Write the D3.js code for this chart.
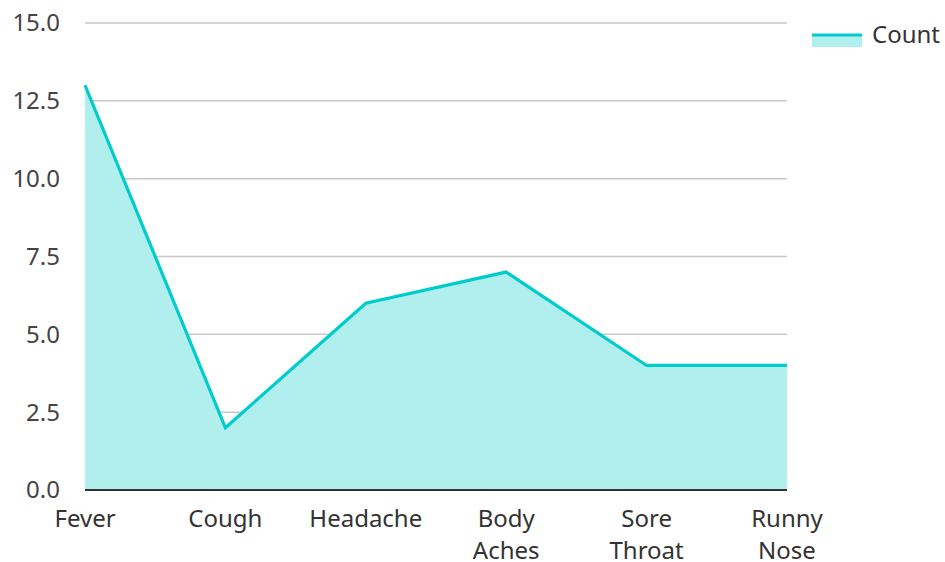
<!DOCTYPE html>
<html><head><meta charset="utf-8">
<script src="https://cdn.jsdelivr.net/npm/d3@7"></script>
<style>body{margin:0;background:#fff;font-family:"Noto Sans","Open Sans",sans-serif;}</style>
</head><body><svg id="c" width="945" height="562"></svg>
<script>
const categories = ["Fever","Cough","Headache","Body Aches","Sore Throat","Runny Nose"];
const counts = [13, 2, 6, 7, 4, 4];
const yTicks = [0, 2.5, 5, 7.5, 10, 12.5, 15];
const seriesName = "Count";

(function(){
const svg = d3.select("#c");
const mLeft = 85, mRight = 787, mTop = 23, mBottom = 490;
const x = d3.scalePoint().domain(categories).range([mLeft, mRight]);
const y = d3.scaleLinear().domain([0, 15]).range([mBottom, mTop]);
const font = '"Noto Sans","Open Sans",sans-serif';
const fs = 24;
const lineColor = "#00CCCC", fillColor = "#B1EFEE";

svg.append("g").selectAll("line").data(yTicks.filter(t => t > 0)).join("line")
  .attr("x1", mLeft).attr("x2", mRight).attr("y1", d => y(d)).attr("y2", d => y(d))
  .attr("stroke", "#c8c8c8").attr("stroke-width", 1.5);

const data = categories.map((c, i) => ({c, v: counts[i]}));
svg.append("path").datum(data)
  .attr("d", d3.area().x(d => x(d.c)).y0(y(0)).y1(d => y(d.v)))
  .attr("fill", fillColor);
svg.append("path").datum(data)
  .attr("d", d3.line().x(d => x(d.c)).y(d => y(d.v)))
  .attr("fill", "none").attr("stroke", lineColor).attr("stroke-width", 3.2);

svg.append("line").attr("x1", mLeft).attr("x2", mRight).attr("y1", y(0)).attr("y2", y(0))
  .attr("stroke", "#333").attr("stroke-width", 2);

svg.append("g").selectAll("text").data(yTicks).join("text")
  .attr("x", 60).attr("y", d => y(d)).attr("dy", "0.35em")
  .attr("text-anchor", "end").attr("font-family", font).attr("font-size", fs)
  .attr("fill", "#444").text(d => d.toFixed(1));

const xl = svg.append("g").selectAll("text").data(categories).join("text")
  .attr("x", d => x(d)).attr("y", 527)
  .attr("text-anchor", "middle").attr("font-family", font).attr("font-size", fs)
  .attr("fill", "#333");
xl.each(function(d) {
  const words = d.split(" ");
  const t = d3.select(this);
  words.forEach((w, i) => t.append("tspan").attr("x", x(d)).attr("dy", i === 0 ? 0 : 32).text(w));
});

svg.append("rect").attr("x", 812).attr("y", 35).attr("width", 50).attr("height", 12).attr("fill", fillColor);
svg.append("line").attr("x1", 812).attr("x2", 862).attr("y1", 35).attr("y2", 35)
  .attr("stroke", lineColor).attr("stroke-width", 3.2);
svg.append("text").attr("x", 872).attr("y", 35).attr("dy", "0.35em")
  .attr("font-family", font).attr("font-size", fs).attr("fill", "#333").text(seriesName);
})();
</script></body></html>
